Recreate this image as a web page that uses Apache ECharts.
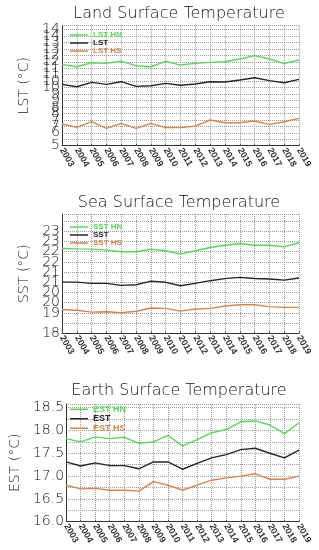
<!DOCTYPE html>
<html>
<head>
<meta charset="utf-8">
<script src="https://cdn.jsdelivr.net/npm/echarts@6/dist/echarts.min.js"></script>
<style>
html,body{margin:0;padding:0;background:#fff;}
#c{width:319px;height:550px;}
</style>
</head>
<body>
<div id="c"></div>
<script>
var years = ['2003','2004','2005','2006','2007','2008','2009','2010','2011','2012','2013','2014','2015','2016','2017','2018','2019'];

var lstHN = [11.30, 11.12, 11.43, 11.38, 11.54, 11.20, 11.12, 11.54, 11.25, 11.38, 11.46, 11.51, 11.72, 11.98, 11.72, 11.36, 11.64];
var lst   = [9.75, 9.57, 9.91, 9.75, 9.96, 9.60, 9.65, 9.83, 9.68, 9.78, 9.96, 9.94, 10.09, 10.27, 10.04, 9.88, 10.14];
var lstHS = [6.68, 6.42, 6.86, 6.34, 6.73, 6.34, 6.73, 6.40, 6.40, 6.52, 6.99, 6.78, 6.78, 6.91, 6.65, 6.86, 7.12];

var sstHN = [22.16, 22.14, 22.13, 22.08, 22.00, 22.00, 22.13, 22.05, 21.88, 22.05, 22.21, 22.32, 22.40, 22.32, 22.32, 22.24, 22.44];
var sst   = [20.51, 20.51, 20.45, 20.45, 20.35, 20.38, 20.56, 20.50, 20.33, 20.45, 20.58, 20.68, 20.74, 20.69, 20.66, 20.61, 20.71];
var sstHS = [19.17, 19.13, 19.04, 19.06, 19.01, 19.08, 19.24, 19.22, 19.09, 19.19, 19.22, 19.34, 19.40, 19.40, 19.31, 19.27, 19.27];

var estHN = [17.82, 17.75, 17.86, 17.82, 17.85, 17.72, 17.75, 17.89, 17.66, 17.80, 17.95, 18.02, 18.19, 18.21, 18.12, 17.93, 18.17];
var est   = [17.31, 17.22, 17.29, 17.23, 17.23, 17.16, 17.31, 17.31, 17.15, 17.28, 17.40, 17.47, 17.58, 17.61, 17.50, 17.40, 17.57];
var estHS = [16.80, 16.72, 16.73, 16.69, 16.69, 16.67, 16.88, 16.80, 16.69, 16.80, 16.91, 16.96, 17.00, 17.05, 16.93, 16.93, 17.00];

var lstTicks = ['5','6','7','8','9','10','11','12','13','14'];
var sstTicks = ['18','19','20','21','22','23'];
var estTicks = ['16.0','16.5','17.0','17.5','18.0','18.5'];

var GREEN = '#58d858', BLACK = '#262626', ORANGE = '#d9844a';
var chart = echarts.init(document.getElementById('c'));

var grids = [
  {left: 62, right: 20, top: 25.7, height: 120},
  {left: 62, right: 20, top: 214, height: 119.3},
  {left: 62, right: 20, top: 404, height: 117.7}
];

function xAxis(i){
  return {
    type: 'category', gridIndex: i, data: years, boundaryGap: false,
    axisLine: {show: true, lineStyle: {color: '#333', width: 1}},
    axisTick: {show: true, inside: true, length: 2, lineStyle: {color: '#555'}},
    axisLabel: {rotate: -60, fontSize: 9, fontWeight: 'bold', fontFamily: 'Liberation Sans', color: '#333', margin: 3, interval: 0},
    splitLine: {show: true, lineStyle: {color: '#9a9a9a', type: 'dotted', width: 1}}
  };
}
function yAxis(i, name, min, max, step, ticks, digits, gap){
  return {
    type: 'value', gridIndex: i, min: min, max: max, interval: step,
    name: name, nameLocation: 'middle', nameGap: gap, nameRotate: 90,
    nameTextStyle: {fontSize: 14, fontFamily: 'DejaVu Sans', fontWeight: 200, color: '#111'},
    axisLine: {show: true, lineStyle: {color: '#333', width: 1}},
    axisTick: {show: false},
    axisLabel: {
      fontSize: 14, fontFamily: 'DejaVu Sans', fontWeight: 200, color: '#111', margin: 2,
      showMaxLabel: false, showMinLabel: true,
      formatter: function(v){ var s = v.toFixed(digits); return ticks.indexOf(s) >= 0 ? s : ''; }
    },
    splitLine: {show: true, lineStyle: {color: '#9a9a9a', type: 'dotted', width: 1}}
  };
}
function line(name, i, data, color){
  return {type: 'line', name: name, xAxisIndex: i, yAxisIndex: i, data: data,
    showSymbol: false, symbol: 'none', lineStyle: {color: color, width: 1.4}, itemStyle: {color: color}};
}
function legend(names, colors, top, lh, fs){
  return {
    orient: 'vertical', left: 70, top: top, itemGap: 0, itemWidth: 18, itemHeight: 1.5, icon: 'rect', padding: 0,
    textStyle: {fontSize: fs, fontWeight: 'bold', fontFamily: 'Liberation Sans', lineHeight: lh},
    data: names.map(function(n, k){ return {name: n, itemStyle: {color: colors[k]}, textStyle: {color: colors[k]}}; })
  };
}
function title(text, top){
  return {text: text, left: 179, top: top, textAlign: 'center', padding: 0,
    textStyle: {fontSize: 16, fontWeight: 200, fontFamily: 'DejaVu Sans', color: '#111', lineHeight: 16}};
}

chart.setOption({
  animation: false,
  backgroundColor: '#fff',
  title: [title('Land Surface Temperature', 6), title('Sea Surface Temperature', 195), title('Earth Surface Temperature', 383)],
  legend: [
    legend(['LST HN','LST','LST HS'], [GREEN, BLACK, ORANGE], 31, 8, 8),
    legend(['SST HN','SST','SST HS'], [GREEN, BLACK, ORANGE], 223, 7.6, 8),
    legend(['EST HN','EST','EST HS'], [GREEN, BLACK, ORANGE], 404.5, 9.5, 9)
  ],
  grid: grids,
  xAxis: [xAxis(0), xAxis(1), xAxis(2)],
  yAxis: [
    yAxis(0, 'LST (°C)', 5, 14.3, 0.5, lstTicks, 0, 28),
    yAxis(1, 'SST (°C)', 18, 23.85, 0.5, sstTicks, 0, 28),
    yAxis(2, 'EST (°C)', 16, 18.58, 0.25, estTicks, 1, 42)
  ],
  series: [
    line('LST HN', 0, lstHN, GREEN), line('LST', 0, lst, BLACK), line('LST HS', 0, lstHS, ORANGE),
    line('SST HN', 1, sstHN, GREEN), line('SST', 1, sst, BLACK), line('SST HS', 1, sstHS, ORANGE),
    line('EST HN', 2, estHN, GREEN), line('EST', 2, est, BLACK), line('EST HS', 2, estHS, ORANGE)
  ]
});
</script>
</body>
</html>
